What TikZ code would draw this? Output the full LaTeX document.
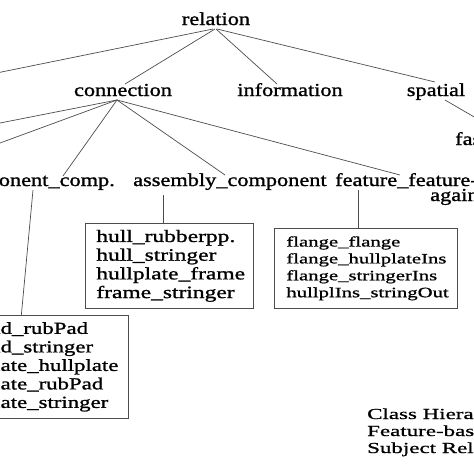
\documentclass[tikz,border=0pt]{standalone}
\usepackage{fontspec}
\setmainfont[FakeStretch=1.22,FakeBold=1.2]{Liberation Serif}
\newfontfamily\boxfont[FakeStretch=1.35,FakeBold=1.2]{Liberation Serif}
\newfontfamily\boxtwofont[FakeStretch=1.45,FakeBold=1]{Liberation Serif}
\newfontfamily\legfont[FakeStretch=1.5,FakeBold=1]{Liberation Serif}
\usetikzlibrary{calc}
\begin{document}
\begin{tikzpicture}[x=1pt,y=-1pt,
  lab/.style={inner sep=0pt, font=\fontsize{18.3}{15}\selectfont},
  edge/.style={draw=black!70, line width=0.7pt},
  box/.style={draw=black!70, line width=0.7pt, align=left, anchor=north west, inner ysep=0pt},
]
\useasboundingbox (0,0) rectangle (474,474);
\clip (0,0) rectangle (474,474);

% labels
\node[lab, anchor=base] (rel) at (216,25) {relation};
\node[lab, anchor=base] (con) at (123,96) {connection};
\node[lab, anchor=base] (inf) at (290,96) {information};
\node[lab, anchor=base] (spa) at (436,96) {spatial};
\node[lab, anchor=base west] (fac) at (455,145) {fastening};
\node[lab, anchor=base east] (cc) at (115,186) {component\_comp.};
\node[lab, anchor=base west] (ac) at (133,186) {assembly\_component};
\node[lab, anchor=base west] (ff) at (335,186) {\vtop{\hbox{feature\_feature-}\hbox{\hspace*{95pt}against}}};

% boxes
\node[box, font=\boxfont\fontsize{17.4}{18.7}\selectfont, minimum width=168pt, minimum height=85pt, inner xsep=11pt, text width=146pt] (b1) at (85,223)
  {hull\_rubberpp.\\hull\_stringer\\hullplate\_frame\\frame\_stringer};
\node[box, font=\boxtwofont\fontsize{14.3}{16.9}\selectfont, minimum width=183pt, minimum height=80pt, inner xsep=12pt, text width=159pt] (b2) at (274,228)
  {flange\_flange\\flange\_hullplateIns\\flange\_stringerIns\\hullplIns\_stringOut};
\node[box, font=\boxfont\fontsize{16.9}{18.5}\selectfont, minimum width=191pt, minimum height=103pt, inner xsep=10pt, text width=171pt] (b3) at (-63,315)
  {rubPad\_rubPad\\rubPad\_stringer\\hullplate\_hullplate\\hullplate\_rubPad\\hullplate\_stringer};

% legend
\node[anchor=base west, inner sep=0pt, font=\legfont\fontsize{15.3}{17}\selectfont] (leg) at (367,419)
  {\vtop{\hbox{Class Hierarchy}\hbox{Feature-based Relation}\hbox{Subject Relation}}};

% off-page ends
\coordinate (offA) at (-210,115);
\coordinate (offB) at (-117,146);
\coordinate (offC) at (-117,186);

% connectors
\draw[edge] ($(rel.base)+(-3,4)$) -- (offA);
\draw[edge] ($(rel.base)+(-1,4)$) -- ($(con.base)+(2,-12)$);
\draw[edge] ($(rel.base)+(0,4)$) -- ($(inf.base)+(-13,-12)$);
\draw[edge] ($(rel.base)+(1,4)$) -- ($(spa.base)+(-1,-14)$);
\draw[edge] ($(spa.base)+(9,4)$) -- ($(fac.base west)+(45,-13)$);

\draw[edge] ($(con.base)+(-6,4)$) -- (offB);
\draw[edge] ($(con.base)+(-6,4)$) -- (offC);
\draw[edge] ($(con.base)+(-6,4)$) -- ($(cc.base east)+(-52,-10)$);
\draw[edge] ($(con.base)+(-6,4)$) -- ($(ac.base west)+(92,-11)$);
\draw[edge] ($(con.base)+(-6,4)$) -- ($(ff.base west)+(65,-11)$);

\coordinate (acd) at ($(ac.base west)+(30,9)$);
\draw[edge] (acd) -- (acd |- b1.north);
\coordinate (ffd) at ($(ff.base west)+(23,4)$);
\draw[edge] (ffd) -- (ffd |- b2.north);
\draw[edge] ($(cc.base east)+(-82,4)$) -- ($(b3.north)+(-11.5,0)$);
\end{tikzpicture}
\end{document}
